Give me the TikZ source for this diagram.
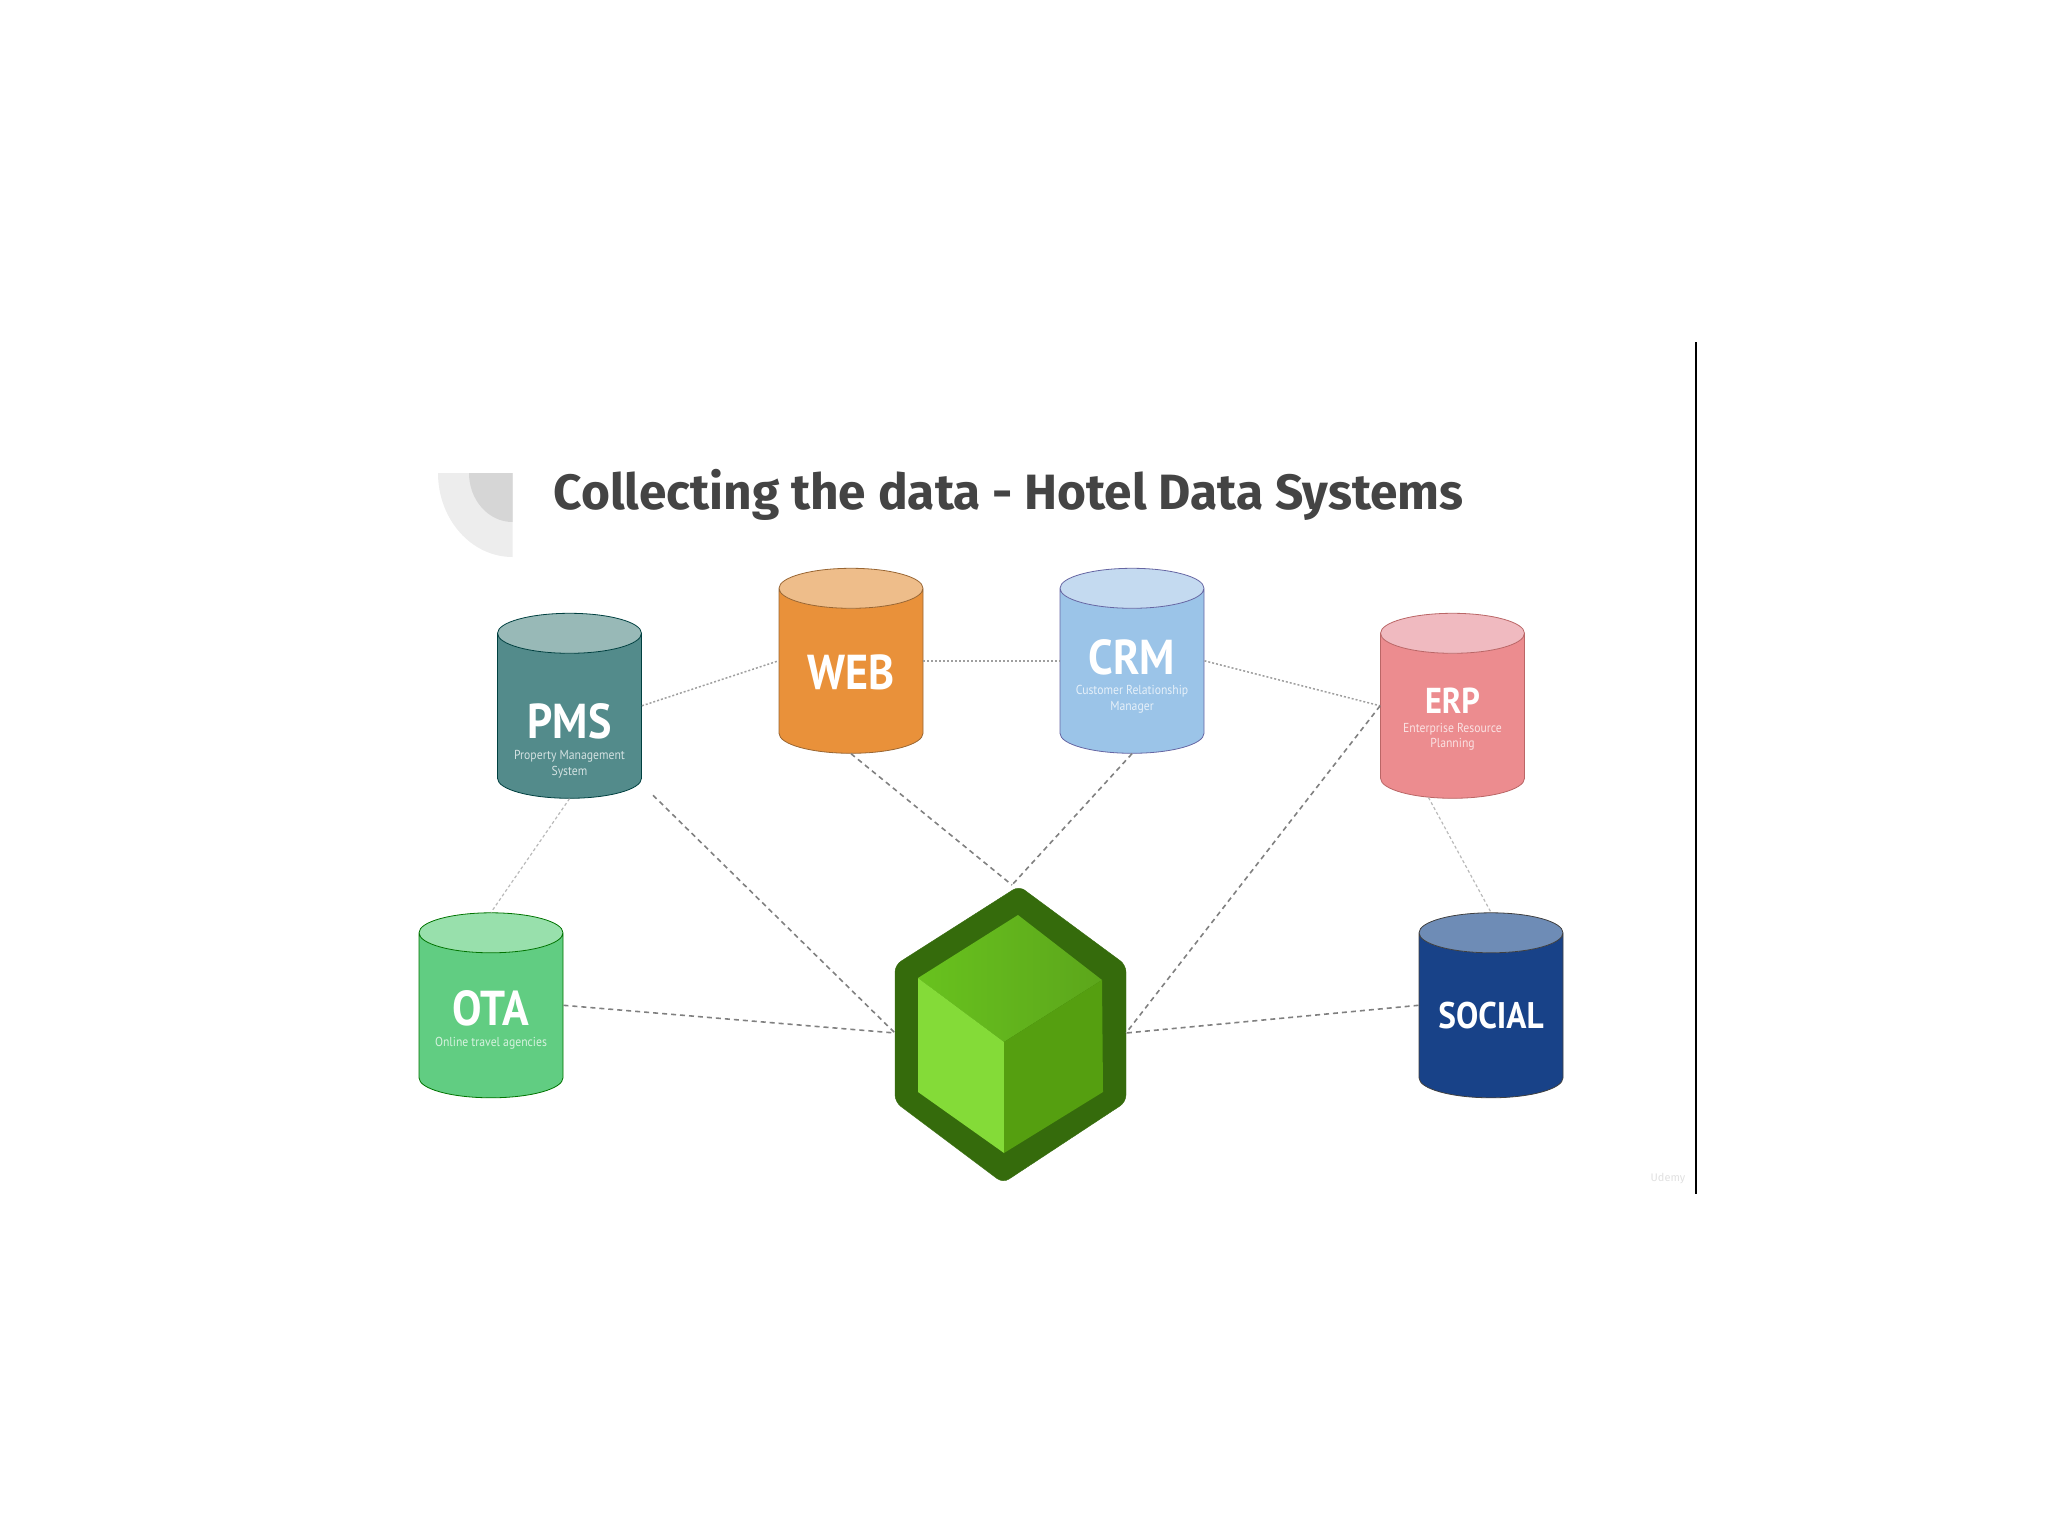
\documentclass[tikz,border=0pt]{standalone}
\usepackage{fontspec}
\usepackage{tikz}
\usetikzlibrary{shapes.geometric}
\usetikzlibrary{positioning}
\setmainfont{Fira Sans}
\newfontfamily\drumfont[FakeStretch=0.9]{PT Sans}
\definecolor{titlegray}{HTML}{444444}
\tikzset{
    every node/.style={font=\drumfont},
    db node/.style={cylinder,shape border rotate=90,draw,thick,shape aspect=6,
        minimum width=144pt,minimum height=185pt,cylinder uses custom fill},
    big text/.style={text=white,font=\drumfont\bfseries\fontsize{#1}{#1}\selectfont},
    sub text/.style={text=white,opacity=0.75,align=center,font=\drumfont\fontsize{13}{15.5}\selectfont},
    near link/.style={draw=gray!75,line width=1.5pt,dash pattern=on 2pt off 2pt},
    far link/.style={draw=gray!55,line width=1.2pt,dash pattern=on 3pt off 2.5pt},
    hub link/.style={draw=gray,line width=1.6pt,dash pattern=on 5pt off 4pt}
}

\begin{document}
\begin{tikzpicture}[
            x = 1pt, y = -1pt, % reference pixels
            on grid, % relative placement from centre to centre
        ]

        \useasboundingbox (0,0) rectangle (2048,1536);

        % corner mark
        \fill[black!7] (438,473) arc[start angle=180,end angle=270,x radius=74.5pt,y radius=84pt] -- (512.5,473) -- cycle;
        \fill[black!16] (469,473) arc[start angle=180,end angle=270,x radius=43.5pt,y radius=49pt] -- (512.5,473) -- cycle;

        \node[anchor=base west,text=titlegray,font=\bfseries\fontsize{49.6}{50}\selectfont] (title) at (550,509) {Collecting the data - Hotel Data Systems};

        \node[db node, draw=black!50!teal, cylinder body fill={rgb,255:red,83;green,139;blue,139}, cylinder end fill={rgb,255:red,152;green,185;blue,183}] (pms) at (569.5,719) {};
        \node[db node, draw=brown!80!black, cylinder body fill={rgb,255:red,233;green,145;blue,58}, cylinder end fill={rgb,255:red,238;green,189;blue,138}] [above right=45pt and 281.5pt of pms] (web) {};
        \node[db node, draw=black!60!blue!60, cylinder body fill={rgb,255:red,155;green,196;blue,232}, cylinder end fill={rgb,255:red,196;green,218;blue,240}] [right=281pt of web] (crm) {};
        \node[db node, draw=black!45!red!60, cylinder body fill={rgb,255:red,236;green,140;blue,143}, cylinder end fill={rgb,255:red,240;green,186;blue,192}] [below right=45pt and 320.5pt of crm] (erp) {};
        \node[db node, draw=black!55!green, cylinder body fill={rgb,255:red,97;green,205;blue,130}, cylinder end fill={rgb,255:red,152;green,224;blue,172}] [below left=299.5pt and 78.5pt of pms] (ota) {};
        \node[db node, draw=black!50!gray, cylinder body fill={rgb,255:red,24;green,66;blue,136}, cylinder end fill={rgb,255:red,110;green,140;blue,182}] [below right=299.5pt and 38.5pt of erp] (social) {};

        \node[big text=49] [below=2pt of pms] (pmsname) {PMS};
        \node[sub text] [below=45pt of pms] (pmsnote) {Property Management\\System};
        \node[big text=49] [below=-2pt of web] (webname) {WEB};
        \node[big text=49] [above=17pt of crm] (crmname) {CRM};
        \node[sub text] [below=25pt of crm] (crmnote) {Customer Relationship\\Manager};
        \node[big text=36] [above=18pt of erp] (erpname) {ERP};
        \node[sub text] [below=18pt of erp] (erpnote) {Enterprise Resource\\Planning};
        \node[big text=49] [above=10.5pt of ota] (otaname) {OTA};
        \node[sub text] [below=25pt of ota] (otanote) {Online travel agencies};
        \node[big text=37] [below=-3pt of social] (socialname) {SOCIAL};

        % cube corners
        \coordinate (cubetop) at (1019,886);
        \coordinate (cubeapex) at (1012,885);
        \coordinate (cubewest) at (895,1033);
        \coordinate (cubeeast) at (1126,1033);

        \fill[fill={rgb,255:red,53;green,107;blue,12}, draw={rgb,255:red,53;green,107;blue,12}, rounded corners=7pt]
            (cubetop) -- (1126,965) -- (1126,1102) -- (1003,1183) -- (895,1102) -- (895,965) -- cycle;
        \shade[left color={rgb,255:red,104;green,194;blue,30}, right color={rgb,255:red,92;green,166;blue,27}]
            (1018,915) -- (1102,980) -- (1004,1042) -- (918,978) -- cycle;
        \fill[fill={rgb,255:red,132;green,219;blue,56}] (918,978) -- (1004,1042) -- (1004,1153) -- (918,1092) -- cycle;
        \fill[fill={rgb,255:red,85;green,159;blue,16}] (1102,980) -- (1004,1042) -- (1004,1153) -- (1103,1092) -- cycle;

        \path[near link] (pms.east |- pms.shape center) edge node {} (web.west |- web.shape center);
        \path[near link] (web.east |- web.shape center) edge node {} (crm.west |- crm.shape center);
        \path[near link] (crm.east |- crm.shape center) edge node {} (erp.west |- erp.shape center);
        \path[far link] (pms.south) edge node {} (ota.north);
        \path[far link] (erp.-107) edge node {} (social.north);
        \path[hub link, shorten <=18pt] (pms.-42) edge node {} (cubewest);
        \path[hub link] (web.south) edge node {} (cubeapex);
        \path[hub link] (crm.south) edge node {} (cubeapex);
        \path[hub link] (erp.west |- erp.shape center) edge node {} (cubeeast);
        \path[hub link] (ota.east |- ota.shape center) edge node {} (cubewest);
        \path[hub link] (social.west |- social.shape center) edge node {} (cubeeast);

        % frame edge
        \coordinate (edgetop) at (1696,342);
        \coordinate (edgefoot) at (1696,1194);
        \draw[line width=2pt] (edgetop) -- (edgefoot);
        \node[text=black!12, font=\fontsize{11}{11}\selectfont] (mark) at (1668,1179) {Udemy};

  \end{tikzpicture}
\end{document}
